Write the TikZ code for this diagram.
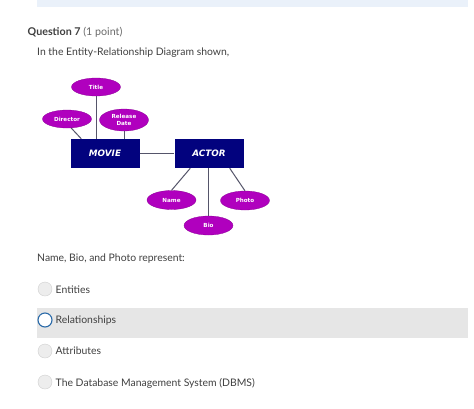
\documentclass[tikz,border=0pt]{standalone}
\usepackage{fontspec}
\usetikzlibrary{shapes.geometric}
\setmainfont{Lato}
\newfontfamily\erfont{DejaVu Sans}
\definecolor{bandblue}{HTML}{EAF1FA}
\definecolor{attrpurple}{HTML}{B000BE}
\definecolor{entnavy}{HTML}{02027E}
\definecolor{linkgrey}{HTML}{55556A}
\definecolor{textgrey}{HTML}{404040}
\definecolor{softgrey}{HTML}{6A6A6A}
\definecolor{rowgrey}{HTML}{E6E6E6}
\definecolor{radioblue}{HTML}{2A6AA8}
\begin{document}
\begin{tikzpicture}[x=1pt, y=-1pt,
    attr/.style={ellipse, fill=attrpurple, draw=attrpurple!80!black, line width=0.3pt,
      minimum width=49pt, minimum height=18pt, inner sep=0pt, align=center,
      text=white, font=\erfont\fontsize{5.6}{6.6}\selectfont\bfseries},
    entity/.style={rectangle, fill=entnavy, minimum width=69pt, minimum height=29pt,
      text=white, font=\erfont\fontsize{8.8}{10}\selectfont\bfseries\itshape},
    link/.style={draw=linkgrey, line width=1pt},
    txt/.style={anchor=base west, inner sep=0pt, text=textgrey, font=\fontsize{10.4}{12}\selectfont},
    radio/.style={circle, minimum size=14pt, inner sep=0pt, fill=rowgrey!70, draw=rowgrey!90!black, line width=0.4pt}]
  \useasboundingbox (0,0) rectangle (474,408);
  \fill[white] (0,0) rectangle (474,408);
  \fill[bandblue] (37,0) rectangle (468,6.5);

  % question heading
  \node[txt, font=\fontsize{10.7}{12}\selectfont] (qhead) at (27.5,35.5)
    {\textbf{Question 7} {\color{softgrey}(1 point)}};
  \node[txt] (qtext) at (37,55) {In the Entity-Relationship Diagram shown,};

  % ER diagram
  \node[entity] (movie) at (105,153.5) {MOVIE};
  \node[entity] (actor) at (209,153.5) {ACTOR};
  \node[attr] (title) at (96,87) {Title};
  \node[attr] (director) at (67,119) {Director};
  \node[attr, minimum height=22pt] (release) at (124,120) {Release\\Date};
  \node[attr, minimum height=19pt] (name) at (171.5,200) {Name};
  \node[attr, minimum height=19pt] (bio) at (208.5,225.5) {Bio};
  \node[attr, minimum height=19pt] (photo) at (245,200.5) {Photo};

  \draw[link] (movie) -- (actor);
  \draw[link] (title) -- (title |- movie.north);
  \draw[link] (director.295) -- ([xshift=11pt]movie.north west);
  \draw[link] (release) -- (release |- movie.north);
  \draw[link] ([xshift=16pt]actor.south west) -- (name.north);
  \draw[link] (bio) -- (bio |- actor.south);
  \draw[link] ([xshift=-14pt]actor.south east) -- (photo.north);

  % answers
  \node[txt] (prompt) at (37,261) {Name, Bio, and Photo represent:};
  \fill[rowgrey] (37,307.5) rectangle (468,338);
  \node[radio] (r1) at (45,289) {};
  \node[radio, fill=white, draw=radioblue, line width=1.1pt] (r2) at (45,320) {};
  \node[radio] (r3) at (45,351) {};
  \node[radio] (r4) at (45,382) {};
  \node[txt] (a1) at (55.5,293) {Entities};
  \node[txt] (a2) at (55.5,323.5) {Relationships};
  \node[txt] (a3) at (55.5,354.5) {Attributes};
  \node[txt] (a4) at (55.5,386) {The Database Management System (DBMS)};
\end{tikzpicture}
\end{document}
